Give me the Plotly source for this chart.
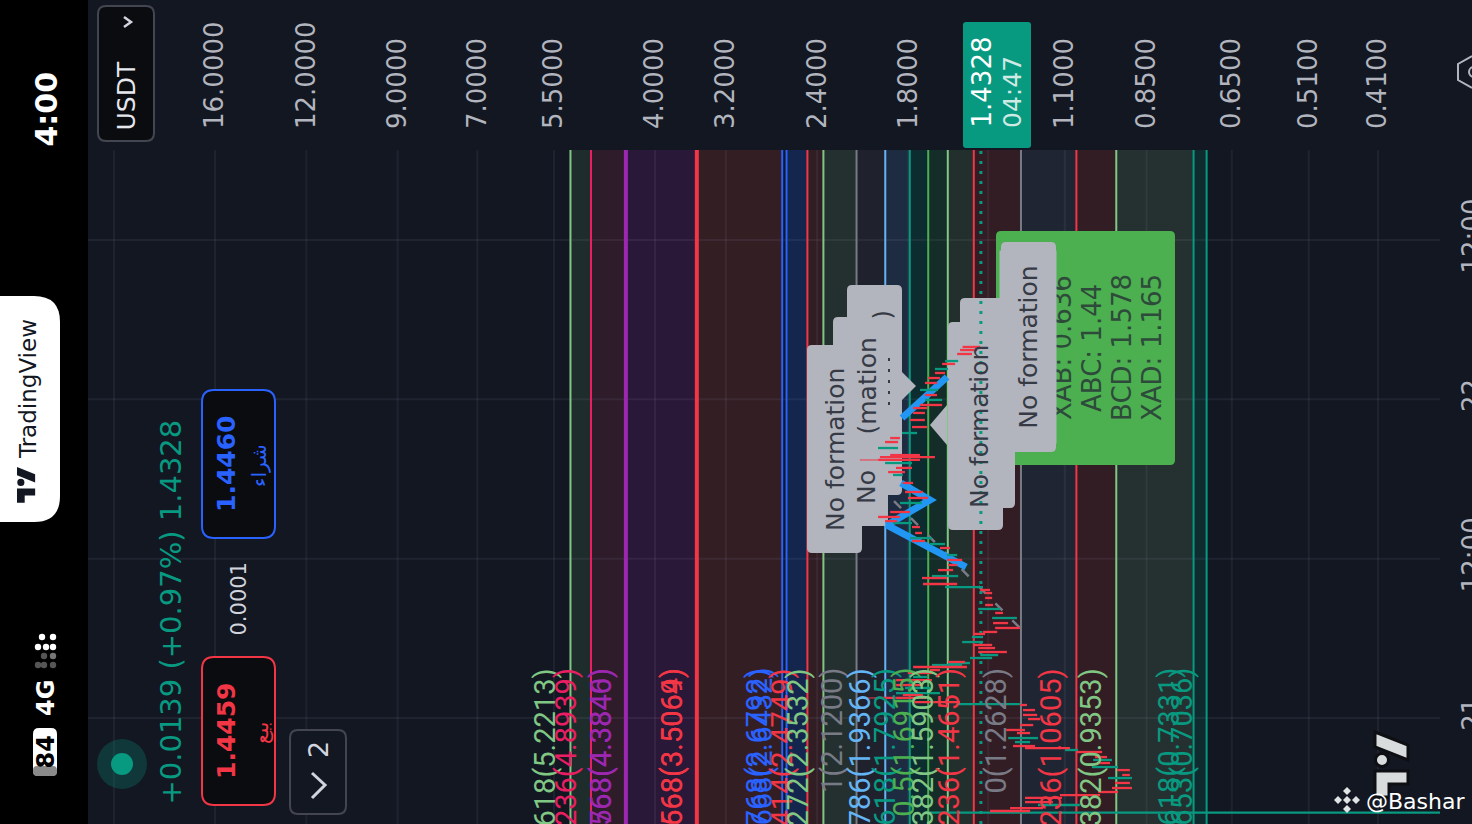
import math

import plotly.graph_objects as go

# price axis (log) and time axis (hours after the 21st 00:00), the phone is held sideways
grid_prices = [22, 16, 12, 9, 7, 5.5, 4, 3.2, 2.4, 1.8, 1.4, 1.1, 0.85, 0.65, 0.51, 0.41]
grid_labels = ["", "16.0000", "12.0000", "9.0000", "7.0000", "5.5000", "4.0000", "3.2000",
               "2.4000", "1.8000", "", "1.1000", "0.8500", "0.6500", "0.5100", "0.4100"]
time_hours = [0, 12, 24, 36]
time_labels = ["21", "12:00", "22", "12:00"]

current_price = 1.4328

# fib levels
level_prices = [5.2213, 4.8939, 4.3846, 3.5064, 2.6792, 2.6432, 2.4749, 2.3532, 2.12, 1.9366,
                1.7925, 1.6915, 1.5903, 1.4651, 1.2628, 1.0605, 0.9353, 0.7331, 0.7036]
level_colors = ["#81c784", "#e91e63", "#9c27b0", "#f23645", "#2962ff", "#2962ff", "#f23645",
                "#81c784", "#787b86", "#64b5f6", "#089981", "#4caf50", "#81c784", "#f23645",
                "#787b86", "#f23645", "#81c784", "#089981", "#089981"]
level_widths = [2, 2, 4, 4, 2, 2, 2, 2, 2, 2, 2, 2, 2, 2, 2, 2, 2, 2, 2]

label_prices = [5.2213, 4.8939, 4.3846, 4.3840, 3.5064, 3.5069, 2.6792, 2.6432, 2.4749, 2.3532,
                2.12, 1.9366, 1.7925, 1.6915, 1.5903, 1.4651, 1.2628, 1.0605, 0.9353, 0.7331, 0.7036]
label_names = ["0.618", "0.236", "0.768", "0.568", "0.568", "0.668", "0.768", "0.668", "0.414",
               "0.272", "1", "0.786", "0.618", "0.5", "0.382", "0.236", "0", "0.236", "0.382",
               "0.618", "0.653"]
label_colors = ["#81c784", "#e91e63", "#9c27b0", "#9c27b0", "#f23645", "#f23645", "#2962ff",
                "#2962ff", "#f23645", "#81c784", "#787b86", "#64b5f6", "#089981", "#4caf50",
                "#81c784", "#f23645", "#787b86", "#f23645", "#81c784", "#089981", "#089981"]

band_left = [5.2213, 4.8939, 4.3846, 3.5064, 2.6432, 2.4749, 2.3532, 2.12, 1.9366, 1.7925,
             1.6915, 1.5903, 1.4651, 1.2628, 1.0605, 0.9353, 0.7331]
band_right = [4.8939, 4.3846, 3.5064, 2.6792, 2.4749, 2.3532, 2.12, 1.9366, 1.7925, 1.6915,
              1.5903, 1.4651, 1.2628, 1.0605, 0.9353, 0.7331, 0.7036]
band_colors = ["#1f2c2c", "#2e1c2a", "#2a1838", "#331e24", "#14264d", "#311d24", "#243030",
               "#1f222d", "#1e2c42", "#0d2c30", "#152d28", "#222f2d", "#331d25", "#202533",
               "#331d25", "#243130", "#102b30"]

# candles
candle_hours = [27.94, 27.71, 27.41, 26.88, 26.66, 26.28, 25.98, 25.60, 25.23, 24.70, 24.32, 23.95,
                23.57, 23.34, 22.97, 22.44, 21.91, 21.46, 21.08, 20.78, 20.33, 19.80, 19.65, 19.43,
                19.20, 18.83, 18.52, 18.30, 17.70, 17.02, 16.57, 16.19, 15.51, 15.14, 14.83, 14.68,
                14.38, 13.93, 13.55, 13.33, 13.10, 12.80, 12.27, 11.90, 11.52, 11.14, 10.69, 10.54,
                10.09, 9.86, 9.64, 9.41, 9.04, 8.51, 8.21, 7.91, 7.53, 7.15, 6.78, 6.48,
                6.33, 6.10, 5.72, 5.50, 5.27, 4.97, 4.74, 4.52, 4.22, 4.14, 3.99, 3.84,
                3.61, 3.39, 3.09, 2.86, 2.48, 2.26, 1.88, 1.73, 1.51, 1.20, 1.05, 0.98,
                0.60, 0.23, -0.08, -0.53, -0.90, -1.13, -1.51, -1.81, -2.11, -2.26, -2.41, -2.56,
                -2.94, -3.16, -3.39, -3.69, -3.92, -4.29, -4.52, -4.89, -5.27, -5.57, -5.80, -6.02,
                -6.33, -6.55, -6.78, -7.00, -7.12]
candle_high = [1.518, 1.530, 1.544, 1.604, 1.619, 1.656, 1.656, 1.693, 1.709, 1.736, 1.709, 1.709,
               1.736, 1.774, 1.774, 1.791, 1.780, 1.837, 1.907, 1.938, 1.981, 1.907, 1.969, 1.98,
               1.938, 1.872, 1.919, 1.890, 1.832, 1.820, 1.803, 1.849, 1.907, 1.981, 1.938, 1.890,
               1.780, 1.763, 1.791, 1.780, 1.682, 1.630, 1.594, 1.594, 1.589, 1.640, 1.672, 1.725,
               1.720, 1.604, 1.436, 1.414, 1.414, 1.414, 1.445, 1.370, 1.383, 1.379, 1.370, 1.423,
               1.469, 1.474, 1.520, 1.469, 1.445, 1.445, 1.436, 1.483, 1.589, 1.589, 1.672, 1.774,
               1.682, 1.803, 1.774, 1.872, 1.872, 1.820, 1.872, 1.832, 1.98, 1.774, 1.539, 1.267,
               1.255, 1.255, 1.235, 1.267, 1.328, 1.279, 1.315, 1.287, 1.295, 1.247, 1.099, 1.059,
               1.000, 1.006, 0.994, 1.010, 0.933, 0.918, 0.960, 0.939, 0.948, 0.990, 1.117, 1.247,
               1.247, 1.197, 1.307, 1.392, 1.709]
candle_low = [1.436, 1.450, 1.474, 1.539, 1.554, 1.589, 1.604, 1.630, 1.645, 1.640, 1.645, 1.619,
              1.619, 1.698, 1.709, 1.709, 1.698, 1.752, 1.849, 1.860, 1.860, 1.736, 1.656, 1.736,
              1.780, 1.780, 1.820, 1.832, 1.774, 1.720, 1.693, 1.725, 1.791, 1.849, 1.866, 1.780,
              1.736, 1.725, 1.672, 1.709, 1.604, 1.579, 1.544, 1.520, 1.544, 1.564, 1.539, 1.594,
              1.544, 1.423, 1.392, 1.383, 1.383, 1.379, 1.349, 1.336, 1.279, 1.315, 1.267, 1.361,
              1.414, 1.423, 1.423, 1.383, 1.370, 1.320, 1.357, 1.383, 1.506, 1.483, 1.520, 1.497,
              1.630, 1.666, 1.698, 1.672, 1.725, 1.682, 1.630, 1.720, 1.703, 1.530, 1.267, 1.239,
              1.208, 1.200, 1.189, 1.215, 1.247, 1.227, 1.197, 1.227, 1.208, 1.082, 1.055, 0.978,
              0.963, 0.948, 0.954, 0.930, 0.896, 0.896, 0.890, 0.896, 0.890, 0.930, 0.984, 1.110,
              1.142, 1.049, 1.178, 1.227, 0.30]
candle_dir = list("dddududddudu"
                  "dddddudduddd"
                  "uddudddudddu"
                  "ddudududddud"
                  "duddddududdd"
                  "duuddduuduud"
                  "ddudduudddud"
                  "dddddduuddud"
                  "dududduddddd"
                  "duddu")

# the two long thin wicks
wick_hours = [19.43, 1.51]
wick_low = [1.736, 1.703]
wick_high = [2.098, 2.098]

# harmonic pattern legs and the dashed projection
leg_hours = [11.37, 14.53, 16.42, 17.70, None, 22.59, 25.68]
leg_prices = [1.501, 1.926, 1.682, 1.843, None, 1.837, 1.594]
proj_hours = [16.34, 6.78]
proj_prices = [1.884, 1.267]

W, H = 1472, 824
BG = "#131722"
UI_FONT = "DejaVu Sans"
LABEL_FONT = "Roboto"
TAG_GRAY = "#b2b5be"
TAG_TEXT = "#363a45"
GRID = "rgba(200,205,220,0.07)"


def X(px):
    return px / W


def Y(py):
    return 1 - py / H


shapes = []
notes = []


def poly(points, fill=None, line=None, width=0, close=True, layer="below"):
    path = "M " + " L ".join(f"{X(a):.5f},{Y(b):.5f}" for a, b in points) + (" Z" if close else "")
    shapes.append(dict(type="path", path=path, xref="paper", yref="paper", layer=layer,
                       fillcolor=fill if fill else "rgba(0,0,0,0)",
                       line=dict(color=line if line else "rgba(0,0,0,0)", width=width)))


def rrect(x0, y0, x1, y1, r, fill, line=None, width=0, layer="below"):
    p = lambda a, b: f"{X(a):.5f},{Y(b):.5f}"
    path = (f"M {p(x0 + r, y0)} L {p(x1 - r, y0)} Q {p(x1, y0)} {p(x1, y0 + r)} "
            f"L {p(x1, y1 - r)} Q {p(x1, y1)} {p(x1 - r, y1)} "
            f"L {p(x0 + r, y1)} Q {p(x0, y1)} {p(x0, y1 - r)} "
            f"L {p(x0, y0 + r)} Q {p(x0, y0)} {p(x0 + r, y0)} Z")
    shapes.append(dict(type="path", path=path, xref="paper", yref="paper", layer=layer, fillcolor=fill,
                       line=dict(color=line if line else "rgba(0,0,0,0)", width=width)))


def circle(cx, cy, r, fill, line=None, width=0, layer="below"):
    shapes.append(dict(type="circle", xref="paper", yref="paper", layer=layer,
                       fillcolor=fill if fill else "rgba(0,0,0,0)",
                       x0=X(cx - r), x1=X(cx + r), y0=Y(cy + r), y1=Y(cy - r),
                       line=dict(color=line if line else "rgba(0,0,0,0)", width=width)))


def text(px, py, s, size, color, anchor="bottom", font=UI_FONT, angle=-90, xa="center", **kw):
    notes.append(dict(x=X(px), y=Y(py), xref="paper", yref="paper", text=s, showarrow=False, textangle=angle,
                      xanchor=xa, yanchor=anchor, font=dict(family=font, size=size, color=color), **kw))


def logo(x0, y0, s, color, outline=None, layer="below"):
    w = 3 if outline else 0
    poly([(x0, y0), (x0 + 33 * s, y0 + 13 * s), (x0 + 33 * s, y0 + 28 * s), (x0, y0 + 15 * s)],
         color, outline, w, layer=layer)
    circle(x0 + 7 * s, y0 + 28 * s, 6.5 * s, color, outline, w, layer=layer)
    poly([(x0, y0 + 39 * s), (x0 + 33 * s, y0 + 39 * s), (x0 + 33 * s, y0 + 52 * s), (x0 + 14 * s, y0 + 52 * s),
          (x0 + 14 * s, y0 + 65 * s), (x0, y0 + 65 * s)], color, outline, w, layer=layer)


# bands, then grid, then level lines
for a, b, c in zip(band_left, band_right, band_colors):
    shapes.append(dict(type="rect", xref="x", yref="paper", x0=a, x1=b, y0=0, y1=Y(150), fillcolor=c,
                       line=dict(width=0), layer="below"))
for p in grid_prices:
    shapes.append(dict(type="line", xref="x", yref="paper", x0=p, x1=p, y0=0, y1=Y(150),
                       line=dict(color=GRID, width=2), layer="below"))
for t in time_hours:
    shapes.append(dict(type="line", xref="paper", yref="y", x0=X(88), x1=X(1440), y0=t, y1=t,
                       line=dict(color=GRID, width=2), layer="below"))
for p, c, w in zip(level_prices, level_colors, level_widths):
    shapes.append(dict(type="line", xref="x", yref="paper", x0=p, x1=p, y0=0, y1=Y(150),
                       line=dict(color=c, width=w), layer="below"))

# callouts
rrect(996, 231, 1175, 465, 5, "#4caf50")
rrect(1001, 242, 1056, 452, 5, TAG_GRAY)
rrect(847, 285, 902, 495, 5, TAG_GRAY)
poly([(902, 372), (916, 386), (902, 400)], TAG_GRAY)
rrect(833, 317, 888, 526, 5, TAG_GRAY)
rrect(807, 345, 862, 553, 5, TAG_GRAY)
rrect(960, 298, 1015, 508, 5, TAG_GRAY)
rrect(948, 322, 1003, 530, 5, TAG_GRAY)
poly([(947, 405), (930, 425), (947, 445)], TAG_GRAY)
shapes.append(dict(type="line", xref="paper", yref="paper", x0=X(889), x1=X(889), y0=Y(405), y1=Y(350),
                   line=dict(color=TAG_TEXT, width=2, dash="3px,8px"), layer="below"))

# left black strip with the status bar
shapes.append(dict(type="rect", xref="paper", yref="paper", x0=0, x1=X(88), y0=0, y1=1, fillcolor="#000000",
                   line=dict(width=0), layer="below"))
rrect(-30, 296, 60, 522, 26, "#ffffff")
logo(17, 467, 0.55, BG)
text(28, 461, "TradingView", 23, BG)
text(46, 149, "<b>4:00</b>", 30, "#ffffff")
text(46, 718, "<b>4G</b>", 24, "#ffffff")
rrect(33, 728, 57, 776, 6, "#ffffff")
rrect(33, 766, 57, 776, 4, "#8a8a8a")
text(45, 771, "<b>84</b>", 24, "#000000")
for cx, cy, c in [(42, 637, "#ffffff"), (53, 637, "#ffffff"), (38, 647, "#ffffff"), (46, 647, "#ffffff"),
                  (53, 647, "#ffffff"), (53, 656, "#777777"), (44, 656, "#555555"), (53, 665, "#555555"),
                  (44, 665, "#555555"), (38, 665, "#555555")]:
    circle(cx, cy, 3.2, c)

# top left controls
rrect(98, 6, 154, 141, 8, "#0b0c10", "#434651", 2)
text(126, 133, "USDT", 25, "#e6e8ee")
poly([(124, 17), (131, 22), (124, 27)], None, "#d1d4dc", 2.5, close=False)
circle(122, 764, 25, "rgba(8,153,129,0.25)")
circle(122, 764, 11, "#089981")
text(170, 807, "+0.0139 (+0.97%) 1.4328", 29, "#089981")
rrect(202, 657, 275, 805, 12, "#0b0c10", "#f23645", 2)
text(226, 781, "<b>1.4459</b>", 25, "#f23645")
text(261, 733, "بيع", 20, "#f23645", anchor="middle")
rrect(202, 390, 275, 538, 12, "#0b0c10", "#2962ff", 2)
text(226, 514, "<b>1.4460</b>", 25, "#2962ff")
text(259, 466, "شراء", 20, "#2962ff", anchor="middle")
text(238, 638, "0.0001", 21, "#d1d4dc")
rrect(290, 730, 346, 814, 8, BG, "#434651", 2)
text(318, 750, "2", 27, "#d1d4dc", anchor="middle")
poly([(312, 773), (325, 785), (312, 798)], None, "#d1d4dc", 3, close=False)

# last price tag and the hexagon at the edge
rrect(963, 22, 1031, 148, 3, "#089981")
text(981, 130, "1.4328", 26, "#ffffff")
text(1012, 130, "04:47", 25, "#cfe9e3")
poly([(1472, 56), (1458, 64), (1458, 80), (1472, 88)], None, "#b2b5be", 2, close=False)
circle(1474, 72, 5, None, "#b2b5be", 2)

# watermark
logo(1375, 732, 1, "#d8dcdc", "#0e0f12", layer="above")
for dx, dy in [(0, -9), (9, 0), (0, 9), (-9, 0), (0, 0)]:
    cx, cy = 1347 + dx, 800 + dy
    poly([(cx, cy - 4), (cx + 4, cy), (cx, cy + 4), (cx - 4, cy)], "#e0e4e4", layer="above")
text(1364, 801, "@Bashar", 22, "#ffffff", anchor="middle", angle=0, xa="left")

# callout text
text(835, 449, "No formation", 25, TAG_TEXT, anchor="middle")
text(867, 506, "No", 25, TAG_TEXT)
text(867, 437, "(mation", 25, TAG_TEXT)
text(883, 322, ")", 24, TAG_TEXT)
text(1062, 348, "XAB: 0.636", 26, "#2e4a3a", anchor="middle")
text(1092, 348, "ABC: 1.44", 26, "#2e4a3a", anchor="middle")
text(1122, 348, "BCD: 1.578", 26, "#2e4a3a", anchor="middle")
text(1152, 348, "XAD: 1.165", 26, "#2e4a3a", anchor="middle")
notes.append(dict(x=X(1028), y=Y(347), xref="paper", yref="paper", text="No formation", showarrow=False,
                  textangle=-90, xanchor="center", yanchor="middle", width=190, height=54,
                  bgcolor=TAG_GRAY, font=dict(family=UI_FONT, size=25, color=TAG_TEXT)))
text(979, 427, "No formation", 25, TAG_TEXT, anchor="middle")

# fib labels, cut off by the bottom of the screen
for p, n, c in zip(label_prices, label_names, label_colors):
    notes.append(dict(x=math.log10(p), y=Y(666), xref="x", yref="paper", text=f"{n}({p:.4f})", showarrow=False,
                      textangle=-90, xanchor="center", yanchor="top", xshift=-25,
                      font=dict(family=LABEL_FONT, size=29, color=c)))

fig = go.Figure()
fig.add_trace(go.Scatter(x=[current_price, current_price], y=[-7.98, 42.77], mode="lines", hoverinfo="skip",
                         line=dict(color="#089981", width=3, dash="3px,7px")))
fig.add_trace(go.Scatter(x=proj_prices, y=proj_hours, mode="lines", hoverinfo="skip",
                         line=dict(color="#787b86", width=2.5, dash="10px,14px")))
fig.add_trace(go.Scatter(x=leg_prices, y=leg_hours, mode="lines", hoverinfo="skip",
                         line=dict(color="#2196f3", width=7)))

wick_x, wick_y = [], []
for t, lo, hi in zip(wick_hours, wick_low, wick_high):
    wick_x += [lo, hi, None]
    wick_y += [t, t, None]
fig.add_trace(go.Scatter(x=wick_x, y=wick_y, mode="lines", hoverinfo="skip", line=dict(color="#f23645", width=1)))

for direction, color in (("u", "#089981"), ("d", "#f23645")):
    xs, ys = [], []
    for t, lo, hi, d in zip(candle_hours, candle_low, candle_high, candle_dir):
        if d == direction:
            xs += [lo, hi, None]
            ys += [t, t, None]
    fig.add_trace(go.Scatter(x=xs, y=ys, mode="lines", hoverinfo="skip",
                             line=dict(color=color, width=2.3, simplify=False)))

fig.update_layout(
    width=W, height=H, margin=dict(l=0, r=0, t=0, b=0), showlegend=False,
    paper_bgcolor=BG, plot_bgcolor=BG, shapes=shapes, annotations=notes,
    xaxis=dict(type="log", range=[1.3779, -0.4720], domain=[X(88), X(1440)], side="top", showgrid=False,
               zeroline=False, showline=False, ticks="", tickmode="array", tickvals=grid_prices,
               ticktext=grid_labels, tickangle=-90, ticklabelstandoff=20, automargin=False,
               tickfont=dict(family=UI_FONT, size=26, color="#b2b5be")),
    yaxis=dict(range=[-7.98, 42.77], domain=[0, Y(150)], side="right", showgrid=False, zeroline=False,
               showline=False, ticks="", tickmode="array", tickvals=time_hours, ticktext=time_labels,
               tickangle=-90, ticklabelstandoff=14, automargin=False,
               tickfont=dict(family=UI_FONT, size=26, color="#b2b5be")),
)

fig.write_html("out.html", config=dict(displayModeBar=False),
               post_script="document.body.style.margin='0';document.body.style.overflow='hidden';")
